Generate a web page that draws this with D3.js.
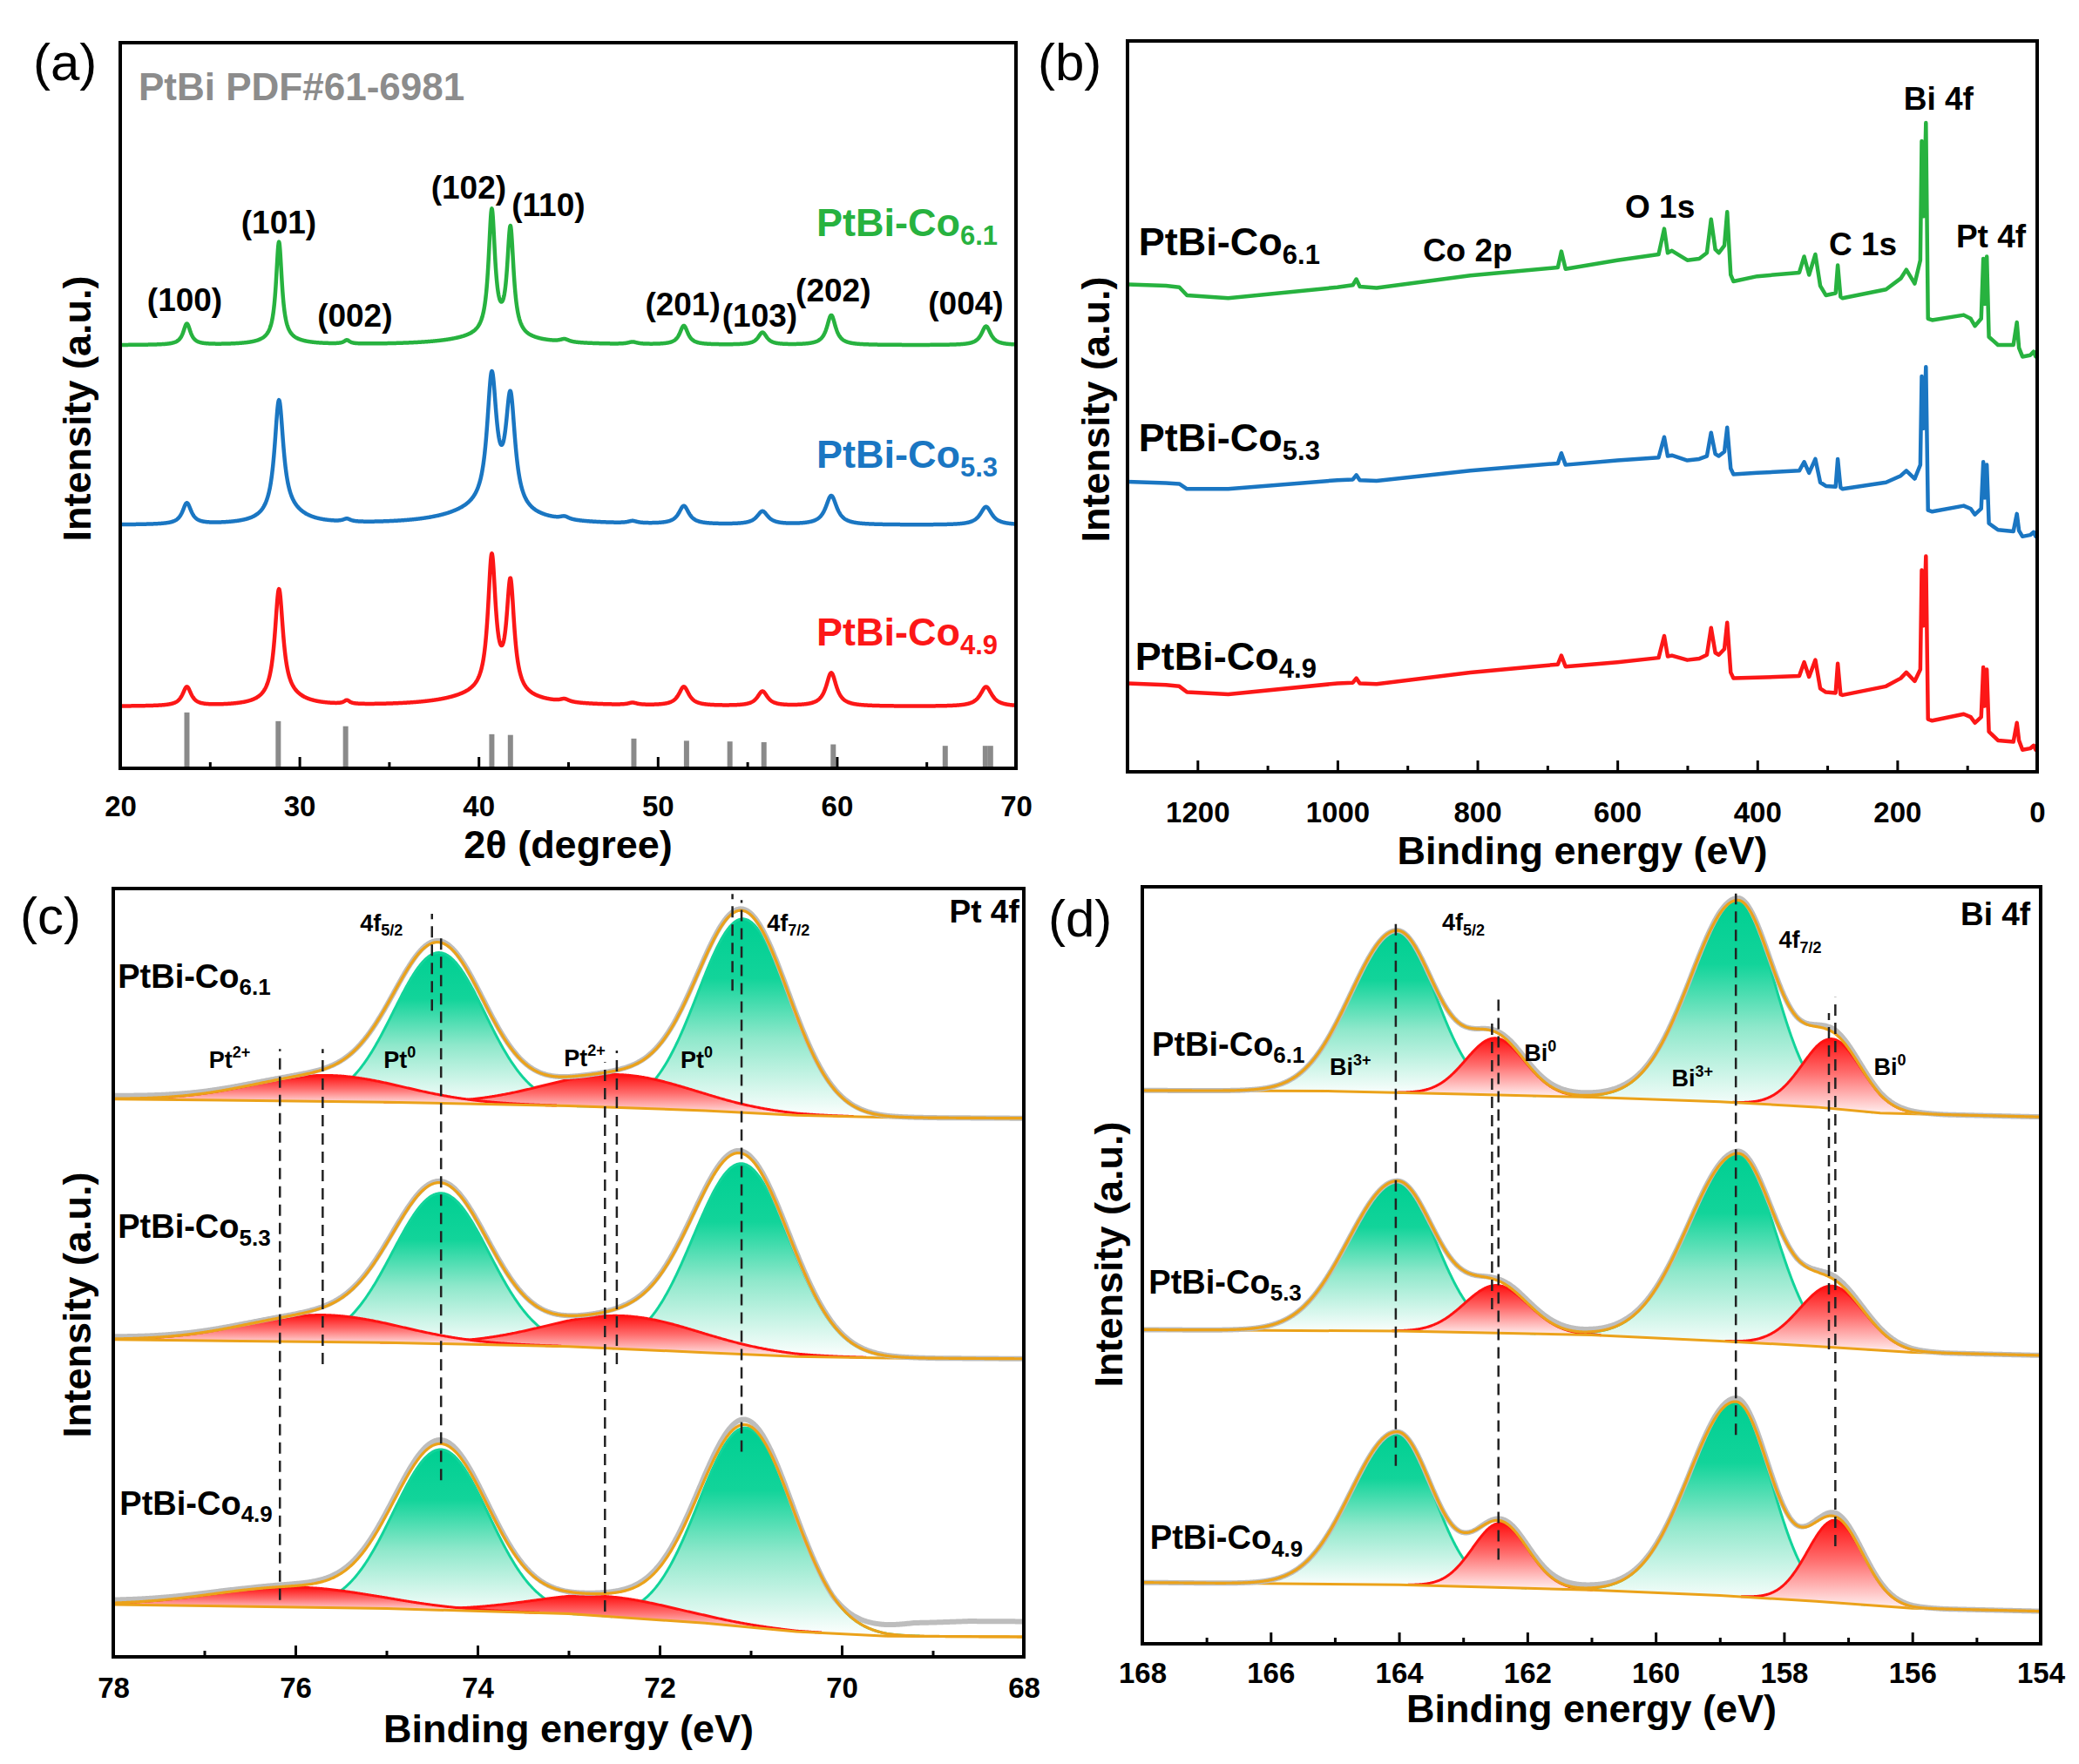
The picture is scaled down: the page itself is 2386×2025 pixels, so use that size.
<!DOCTYPE html>
<html>
<head>
<meta charset="utf-8">
<script src="https://cdn.jsdelivr.net/npm/d3@7"></script>
<style>
  body { margin: 0; background: #fff; }
  text { font-family: "Liberation Sans", Arial, sans-serif; }
</style>
</head>
<body>
<svg id="fig"></svg>
<script>
/* PtBi-Co XRD / XPS figure, four panels */

// ---------- data ----------
const sampleBase = "PtBi-Co";
const sampleSubs = ["6.1", "5.3", "4.9"];

// (a) XRD: baseline level and peaks [2theta, height, half width]
const xrdBaselines = [58.3, 33.5, 8.5];
const xrdPeaks61 = [[23.72,2.9,0.25],[28.86,13.6,0.2],[32.65,0.5,0.2],[40.74,17.0,0.22],[41.78,14.7,0.22],[44.8,0.4,0.3],[48.6,0.3,0.3],[51.46,2.6,0.28],[55.85,1.7,0.3],[59.69,4.1,0.3],[68.33,2.6,0.32],[29.0,0.6,1.2],[40.8,1.2,2.5]];
const xrdPeaks53 = [[23.72,2.9,0.3],[28.86,15.8,0.3],[32.65,0.4,0.25],[40.74,17.7,0.32],[41.78,15.2,0.32],[44.8,0.4,0.3],[48.6,0.3,0.3],[51.46,2.5,0.35],[55.85,1.8,0.38],[59.69,4.0,0.38],[68.33,2.5,0.4],[29.3,1.5,1.2],[40.5,2.2,2.5]];
const xrdPeaks49 = [[23.72,2.6,0.3],[28.86,15.0,0.28],[32.65,0.5,0.2],[40.74,18.4,0.26],[41.78,15.1,0.26],[44.8,0.4,0.3],[48.6,0.3,0.3],[51.46,2.6,0.35],[55.85,2.0,0.35],[59.69,4.6,0.35],[68.33,2.7,0.4],[29.2,1.2,1.2],[40.7,1.8,2.5]];
const refPos = [23.72,28.82,32.58,40.74,41.78,48.67,51.61,54.03,55.93,59.8,66.05,68.29,68.58];
const refInt = [7.7,6.5,5.8,4.7,4.6,4.1,3.8,3.7,3.6,3.3,3.1,3.1,3.1];
const hklLabels = [["(100)",23.6,64.6],["(101)",28.85,75.3],["(002)",33.1,62.4],["(102)",39.45,80.1],["(110)",43.9,77.7],["(201)",51.4,64.0],["(103)",55.7,62.4],["(202)",59.8,65.9],["(004)",67.2,64.1]];
const xrdTicks = [20,30,40,50,60,70];
const xrdMinor = [25,35,45,55,65];

// (b) survey spectra [binding energy, intensity]
const survey61 = [[1300,66.7],[1245,66.5],[1226,66.3],[1215,65.2],[1156,64.8],[1000,66.3],[978,66.6],[973,67.4],[968,66.4],[944,66.2],[810,67.9],[685,69.0],[680,71.2],[674,68.8],[600,70.0],[541,70.8],[533,74.3],[528,71.0],[522,71.3],[500,70.0],[483,70.2],[472,71.0],[466,75.6],[460,71.5],[455,71.0],[447,72.0],[443,76.6],[438,68.0],[434,67.1],[400,67.8],[340,68.3],[333,70.5],[326,68.0],[317,70.8],[310,66.5],[302,65.2],[288,65.5],[285,69.3],[281,65.0],[278,64.8],[216,66.0],[195,67.5],[187,68.7],[175,66.8],[167,70.0],[165,86.3],[162,76.0],[159,88.8],[156,62.0],[150,61.8],[105,62.5],[95,62.0],[89,61.0],[80,62.0],[77,70.2],[75,64.0],[72,70.5],[69,59.5],[56,58.4],[34,58.4],[29,61.5],[26,58.0],[21,56.8],[10,57.0],[5,57.5],[2,56.8],[0,57.3]];
const survey53 = [[1300,39.7],[1245,39.5],[1226,39.4],[1215,38.7],[1156,38.7],[1000,39.9],[978,40.0],[973,40.6],[968,39.9],[944,39.8],[810,41.2],[685,42.2],[680,43.6],[674,42.0],[600,42.6],[541,43.0],[533,45.8],[528,43.2],[522,43.3],[500,42.6],[483,42.8],[472,43.2],[466,46.4],[460,43.5],[455,43.2],[447,43.8],[443,47.1],[438,41.5],[434,40.7],[400,40.9],[340,41.2],[333,42.4],[326,40.9],[317,42.8],[310,39.6],[302,39.1],[288,39.0],[285,42.8],[281,38.9],[278,38.7],[216,39.6],[195,40.5],[187,41.2],[175,40.1],[167,42.0],[165,54.1],[162,47.0],[159,55.4],[156,35.8],[150,35.6],[105,36.4],[95,36.0],[89,35.2],[80,36.0],[77,42.4],[75,37.5],[72,42.0],[69,34.0],[56,33.1],[34,32.9],[29,35.3],[26,33.0],[21,32.2],[10,32.4],[5,32.8],[2,32.2],[0,32.6]];
const survey49 = [[1300,12.1],[1245,11.9],[1226,11.7],[1215,10.9],[1156,10.6],[1000,12.1],[978,12.2],[973,12.8],[968,12.1],[944,12.0],[810,13.6],[685,14.7],[680,15.9],[674,14.4],[600,15.0],[541,15.6],[533,18.6],[528,15.8],[522,15.9],[500,15.3],[483,15.5],[472,16.0],[466,19.7],[460,16.3],[455,16.0],[447,16.8],[443,20.4],[438,13.6],[434,12.8],[400,12.9],[340,13.1],[333,15.0],[326,13.0],[317,15.3],[310,11.4],[302,10.9],[288,10.8],[285,14.8],[281,10.6],[278,10.5],[216,11.7],[195,12.8],[187,13.6],[175,12.4],[167,14.0],[165,27.6],[162,20.0],[159,29.5],[156,7.2],[150,7.0],[105,7.9],[95,7.5],[89,6.7],[80,7.5],[77,14.3],[75,9.0],[72,14.0],[69,5.5],[56,4.3],[34,4.1],[29,6.7],[26,4.3],[21,3.0],[10,3.2],[5,3.6],[2,3.0],[0,3.3]];
const surveyLabels = [["Co 2p",814,69.9],["O 1s",539,75.8],["C 1s",249,70.7],["Bi 4f",141,90.6],["Pt 4f",66,71.8]];
const surveySampleLabelPos = [[1284,70.7],[1284,43.9],[1289,14.0]];
const surveyTicks = [1200,1000,800,600,400,200,0];
const surveyMinor = [1300,1100,900,700,500,300,100];

// (c) Pt 4f fits: background knots, components [centre, height, sigma high-BE side, sigma low-BE side]
const ptBg61 = [[78,72.6],[75,72.2],[73,71.7],[71.5,71.1],[70.5,70.5],[69.5,70.2],[68,70.1]];
const ptBg53 = [[78,41.3],[75,40.9],[73,40.4],[71.5,39.6],[70.5,39.1],[69.5,38.9],[68,38.8]];
const ptBg49 = [[78,6.8],[75,6.3],[73,5.6],[71.5,4.4],[70.5,3.3],[69.5,2.7],[68,2.6]];
const pt0Comp61 = [[71.08,25.2,0.5,0.5],[74.42,19.6,0.5,0.5]];
const pt2Comp61 = [[72.45,4.3,0.82,0.82],[75.65,3.4,0.82,0.82]];
const pt0Comp53 = [[71.1,24.8,0.53,0.53],[74.4,19.6,0.53,0.53]];
const pt2Comp53 = [[72.4,4.3,0.85,0.85],[75.7,3.5,0.85,0.85]];
const pt0Comp49 = [[71.05,25.9,0.52,0.52],[74.4,20.9,0.52,0.52]];
const pt2Comp49 = [[72.6,2.6,0.8,0.8],[76.0,2.6,0.9,0.9]];
const ptRaw61 = [[78,0.4],[76.5,0.2],[75,0],[74.4,0.2],[73,0],[71.1,0.2],[69,0],[68,0]];
const ptRaw53 = [[78,0.3],[76,0.1],[74.4,0.2],[73,0],[71.1,0.3],[69,0],[68,0]];
const ptRaw49 = [[78,0.4],[76.5,0.2],[74.4,0.5],[73,0],[71.1,0.7],[70.1,0],[69.6,1.0],[69.2,1.7],[68.6,2.0],[68,2.0]];
const ptDashes = [[74.5,84.1,96.7],[74.4,23.0,94.4],[71.2,86.7,99.3],[71.1,26.7,98.5],[76.17,7.4,79.1],[75.7,38.1,79.1],[72.6,5.9,77.4],[72.47,38.1,78.9]];
const ptLabels = [["4f","5/2","sub",75.29,94.5],["4f","7/2","sub",70.82,94.5],["Pt","2+","sup",76.95,76.7],["Pt","0","sup",75.03,76.7],["Pt","2+","sup",73.05,76.9],["Pt","0","sup",71.77,76.7]];
const ptSampleLabelPos = [[77.95,87.1],[77.95,54.5],[77.93,18.5]];
const ptTicks = [78,76,74,72,70,68];
const ptMinor = [77,75,73,71,69];

// (d) Bi 4f fits
const biBg61 = [[168,73.1],[165,73.0],[163,72.6],[161,72.2],[159,71.6],[157.5,70.9],[156.5,70.1],[155,69.8],[154,69.6]];
const biBg53 = [[168,41.5],[164,41.3],[161,40.8],[159,40.0],[157.5,39.3],[156,38.5],[154,38.1]];
const biBg49 = [[168,8.1],[164,7.8],[161,7.1],[159,6.4],[157.5,5.6],[156,4.7],[154,4.3]];
const bi3Comp61 = [[164.03,21.4,0.72,0.6],[158.72,26.7,0.74,0.57]];
const bi0Comp61 = [[162.5,7.5,0.46,0.46],[157.25,9.2,0.46,0.46]];
const bi3Comp53 = [[164.03,19.8,0.76,0.6],[158.72,24.8,0.78,0.58]];
const bi0Comp53 = [[162.48,6.3,0.5,0.5],[157.25,8.1,0.5,0.5]];
const bi3Comp49 = [[164.03,20.2,0.72,0.56],[158.75,25.7,0.74,0.55]];
const bi0Comp49 = [[162.42,8.5,0.43,0.43],[157.2,10.9,0.43,0.43]];
const biRaw61 = [[168,0],[162.8,0],[162.2,0.4],[161.5,0.4],[160.5,0.3],[159.5,0],[158.7,0.3],[157.8,0],[157.2,0.5],[156.5,0.3],[155.5,0],[154,0]];
const biRaw53 = [[168,0],[162.8,0],[162.2,0.4],[161.5,0.4],[160.5,0.3],[159.5,0],[158.7,0.3],[157.8,0],[157.2,0.5],[156.5,0.3],[155.5,0],[154,0]];
const biRaw49 = [[168,0],[162.8,0],[162.2,0.4],[161.5,0.5],[160.5,0.3],[159.5,0],[158.7,0.5],[157.8,0],[157.2,0.5],[156.5,0.3],[155.5,0],[154,0]];
const biDashes = [[164.05,23.5,95.3],[162.55,44.2,82.7],[162.45,11.1,85.2],[158.75,27.6,99.1],[157.3,38.9,83.3],[157.2,12.9,85.4]];
const biLabels = [["4f","5/2","sub",163.33,94.2],["4f","7/2","sub",158.08,91.9],["Bi","3+","sup",165.08,75.1],["Bi","0","sup",162.05,77.0],["Bi","3+","sup",159.75,73.6],["Bi","0","sup",156.6,75.1]];
const biSampleLabelPos = [[167.85,77.7],[167.9,46.3],[167.88,12.5]];
const biTicks = [168,166,164,162,160,158,156,154];
const biMinor = [167,165,163,161,159,157,155];

// ---------- layout ----------
const W = 2386, H = 2025;
const FONT = '"Liberation Sans", Arial, sans-serif';
const xrdColors = ["#27b23f", "#1a76c2", "#fc1717"];
const fitGreen = "#12d49a", fitRed = "#ff1212", envColor = "#eba21a", rawColor = "#bdbdbd";

const svg = d3.select("#fig").attr("width", W).attr("height", H)
  .style("background", "#fff");

const defs = svg.append("defs");
function makeGrad(id, stops) {
  const g = defs.append("linearGradient").attr("id", id)
    .attr("x1", 0).attr("y1", 0).attr("x2", 0).attr("y2", 1);
  stops.forEach(s => g.append("stop").attr("offset", s[0]).attr("stop-color", s[1]));
}
makeGrad("gradGreen", [[0, "#00cf92"], [0.3, "#12d49a"], [0.6, "#8fe8cb"], [1, "#ffffff"]]);
makeGrad("gradRed", [[0, "#ff1010"], [0.45, "#ff6d6d"], [1, "#fff2f2"]]);

const panels = {
  a: { x0: 138, x1: 1166, y0: 49, y1: 882 },
  b: { x0: 1294, x1: 2338, y0: 47, y1: 886 },
  c: { x0: 130, x1: 1175, y0: 1020, y1: 1902 },
  d: { x0: 1311, x1: 2342, y0: 1018, y1: 1887 }
};

function yScale(p) { return d3.scaleLinear().domain([0, 100]).range([p.y1, p.y0]); }

function clipFor(id, p) {
  defs.append("clipPath").attr("id", id).append("rect")
    .attr("x", p.x0).attr("y", p.y0).attr("width", p.x1 - p.x0).attr("height", p.y1 - p.y0);
  return svg.append("g").attr("clip-path", `url(#${id})`);
}

function drawFrame(p) {
  svg.append("rect").attr("x", p.x0).attr("y", p.y0)
    .attr("width", p.x1 - p.x0).attr("height", p.y1 - p.y0)
    .attr("fill", "none").attr("stroke", "#000").attr("stroke-width", 4);
}

function drawXAxis(p, x, majors, minors, pad) {
  const major = d3.axisBottom(x).tickValues(majors).tickSizeInner(-13).tickSizeOuter(0)
    .tickPadding(pad).tickFormat(d3.format("d"));
  const g = svg.append("g").attr("transform", `translate(0,${p.y1})`).call(major);
  g.select(".domain").remove();
  g.selectAll("line").attr("stroke", "#000").attr("stroke-width", 3);
  g.selectAll("text").attr("font-size", 33).attr("font-weight", "bold")
    .attr("fill", "#000").attr("font-family", FONT);
  const minor = d3.axisBottom(x).tickValues(minors).tickSizeInner(-7).tickSizeOuter(0).tickFormat("");
  const gm = svg.append("g").attr("transform", `translate(0,${p.y1})`).call(minor);
  gm.select(".domain").remove();
  gm.selectAll("line").attr("stroke", "#000").attr("stroke-width", 3);
}

function titleText(x, y, str, rotate) {
  const t = svg.append("text").attr("font-size", 45).attr("font-weight", "bold")
    .attr("text-anchor", "middle").attr("font-family", FONT).text(str);
  if (rotate) t.attr("transform", `translate(${x},${y}) rotate(-90)`).attr("dy", "0.35em");
  else t.attr("x", x).attr("y", y);
}

function panelLetter(x, y, str) {
  svg.append("text").attr("x", x).attr("y", y).attr("font-size", 60)
    .attr("font-family", FONT).text(str);
}

// text with sub- or superscript
function scriptText(g, x, y, base, script, kind, size, color, anchor) {
  const t = g.append("text").attr("x", x).attr("y", y).attr("font-size", size)
    .attr("font-weight", "bold").attr("fill", color || "#000").attr("font-family", FONT)
    .attr("text-anchor", anchor || "start");
  t.append("tspan").text(base);
  const small = Math.round(size * 0.68);
  const shift = kind === "sub" ? size * 0.22 : -size * 0.42;
  t.append("tspan").attr("font-size", small).attr("dy", shift).text(script);
  return t;
}

// ---------- panel (a) XRD ----------
(function () {
  const p = panels.a;
  const x = d3.scaleLinear().domain([20, 70]).range([p.x0, p.x1]);
  const y = yScale(p);
  const g = clipFor("clipA", p);

  // reference sticks
  g.selectAll(".ref").data(refPos).enter().append("line")
    .attr("x1", d => x(d)).attr("x2", d => x(d))
    .attr("y1", y(0)).attr("y2", (d, i) => y(refInt[i]))
    .attr("stroke", "#8a8a8a").attr("stroke-width", 6);

  const grid = d3.range(20, 70.001, 0.02);
  const peakSets = [xrdPeaks61, xrdPeaks53, xrdPeaks49];
  const line = d3.line().x(d => x(d[0])).y(d => y(d[1]));
  peakSets.forEach((peaks, i) => {
    const pts = grid.map(t => {
      let v = xrdBaselines[i];
      peaks.forEach(([c, h, w]) => { v += h / (1 + ((t - c) / w) ** 2); });
      return [t, v];
    });
    g.append("path").attr("d", line(pts)).attr("fill", "none")
      .attr("stroke", xrdColors[i]).attr("stroke-width", 4.5).attr("stroke-linejoin", "round");
  });

  hklLabels.forEach(([s, t, v]) => {
    svg.append("text").attr("x", x(t)).attr("y", y(v)).attr("dy", "0.35em")
      .attr("text-anchor", "middle").attr("font-size", 37).attr("font-weight", "bold")
      .attr("font-family", FONT).text(s);
  });

  const labelY = [271, 537, 741];
  sampleSubs.forEach((s, i) => {
    scriptText(svg, p.x0 + 799, labelY[i], sampleBase, s, "sub", 45, xrdColors[i]);
  });

  svg.append("text").attr("x", p.x0 + 21).attr("y", p.y0 + 66).attr("font-size", 44)
    .attr("font-weight", "bold").attr("fill", "#8c8c8c").attr("font-family", FONT)
    .text("PtBi PDF#61-6981");

  drawXAxis(p, x, xrdTicks, xrdMinor, 32);
  drawFrame(p);
  titleText((p.x0 + p.x1) / 2, 985, "2θ (degree)");
  titleText(88, 469, "Intensity (a.u.)", true);
  panelLetter(38, 92, "(a)");
})();

// ---------- panel (b) survey ----------
(function () {
  const p = panels.b;
  const x = d3.scaleLinear().domain([1300, 0]).range([p.x0, p.x1]);
  const y = yScale(p);
  const g = clipFor("clipB", p);
  const line = d3.line().x(d => x(d[0])).y(d => y(d[1]));
  [survey61, survey53, survey49].forEach((s, i) => {
    g.append("path").attr("d", line(s)).attr("fill", "none")
      .attr("stroke", xrdColors[i]).attr("stroke-width", 4.5).attr("stroke-linejoin", "round");
  });

  surveyLabels.forEach(([s, e, v]) => {
    svg.append("text").attr("x", x(e)).attr("y", y(v)).attr("text-anchor", "middle")
      .attr("font-size", 37).attr("font-weight", "bold").attr("font-family", FONT).text(s);
  });
  sampleSubs.forEach((s, i) => {
    const [e, v] = surveySampleLabelPos[i];
    scriptText(svg, x(e), y(v), sampleBase, s, "sub", 45, "#000");
  });

  drawXAxis(p, x, surveyTicks, surveyMinor, 35);
  drawFrame(p);
  titleText((p.x0 + p.x1) / 2, 992, "Binding energy (eV)");
  titleText(1257, 470, "Intensity (a.u.)", true);
  panelLetter(1191, 92, "(b)");
})();

// ---------- fitted XPS panels (c) and (d) ----------
function gauss(e, comp) {
  const [c, h, sHi, sLo] = comp;
  const s = e > c ? sHi : sLo;
  return h * Math.exp(-0.5 * ((e - c) / s) ** 2);
}

function drawFitPanel(p, clipId, dom, samples, dashes, labels, sampleLabelPos, cornerLabel) {
  const x = d3.scaleLinear().domain(dom).range([p.x0, p.x1]);
  const y = yScale(p);
  const g = clipFor(clipId, p);
  const grid = d3.range(dom[1], dom[0] + 0.0001, 0.01);
  const line = d3.line().x(d => x(d[0])).y(d => y(d[1])).curve(d3.curveLinear);

  samples.forEach(smp => {
    const bgS = d3.scaleLinear().domain(smp.bg.map(d => d[0])).range(smp.bg.map(d => d[1]));
    const rawS = d3.scaleLinear().domain(smp.raw.map(d => d[0])).range(smp.raw.map(d => d[1])).clamp(true);
    const comps = [
      ...smp.green.map(c => ({ c, fill: "url(#gradGreen)", stroke: fitGreen })),
      ...smp.red.map(c => ({ c, fill: "url(#gradRed)", stroke: fitRed }))
    ];
    comps.forEach(({ c, fill, stroke }) => {
      const pts = grid.map(e => ({ e, b: bgS(e), v: gauss(e, c) })).filter(d => d.v > 0.03);
      g.append("path").datum(pts)
        .attr("d", d3.area().x(d => x(d.e)).y0(d => y(d.b)).y1(d => y(d.b + d.v)))
        .attr("fill", fill);
      g.append("path").datum(pts)
        .attr("d", d3.line().x(d => x(d.e)).y(d => y(d.b + d.v)))
        .attr("fill", "none").attr("stroke", stroke).attr("stroke-width", 3);
    });
    const all = [...smp.green, ...smp.red];
    const env = grid.map(e => [e, bgS(e) + d3.sum(all, c => gauss(e, c))]);
    const raw = env.map(([e, v]) => [e, v + rawS(e)]);
    g.append("path").attr("d", line(smp.bg.map(d => [d[0], d[1]])))
      .attr("fill", "none").attr("stroke", envColor).attr("stroke-width", 3);
    g.append("path").attr("d", line(raw)).attr("fill", "none")
      .attr("stroke", rawColor).attr("stroke-width", 6).attr("stroke-linejoin", "round");
    g.append("path").attr("d", line(env)).attr("fill", "none")
      .attr("stroke", envColor).attr("stroke-width", 3.2).attr("stroke-linejoin", "round");
  });

  dashes.forEach(([e, v0, v1]) => {
    g.append("line").attr("x1", x(e)).attr("x2", x(e)).attr("y1", y(v0)).attr("y2", y(v1))
      .attr("stroke", "#222").attr("stroke-width", 2.5).attr("stroke-dasharray", "13,8");
  });

  labels.forEach(([b, s, k, e, v]) => scriptText(svg, x(e), y(v), b, s, k, 27, "#000"));
  sampleSubs.forEach((s, i) => {
    const [e, v] = sampleLabelPos[i];
    scriptText(svg, x(e), y(v), sampleBase, s, "sub", 38, "#000");
  });
  svg.append("text").attr("x", x(cornerLabel[1])).attr("y", y(cornerLabel[2]))
    .attr("text-anchor", "end").attr("font-size", 37).attr("font-weight", "bold")
    .attr("font-family", FONT).text(cornerLabel[0]);
  return x;
}

(function () {
  const p = panels.c;
  const x = drawFitPanel(p, "clipC", [78, 68], [
    { bg: ptBg61, green: pt0Comp61, red: pt2Comp61, raw: ptRaw61 },
    { bg: ptBg53, green: pt0Comp53, red: pt2Comp53, raw: ptRaw53 },
    { bg: ptBg49, green: pt0Comp49, red: pt2Comp49, raw: ptRaw49 }
  ], ptDashes, ptLabels, ptSampleLabelPos, ["Pt 4f", 68.05, 95.6]);
  drawXAxis(p, x, ptTicks, ptMinor, 24);
  drawFrame(p);
  titleText((p.x0 + p.x1) / 2, 2000, "Binding energy (eV)");
  titleText(88, 1498, "Intensity (a.u.)", true);
  panelLetter(23, 1072, "(c)");
})();

(function () {
  const p = panels.d;
  const x = drawFitPanel(p, "clipD", [168, 154], [
    { bg: biBg61, green: bi3Comp61, red: bi0Comp61, raw: biRaw61 },
    { bg: biBg53, green: bi3Comp53, red: bi0Comp53, raw: biRaw53 },
    { bg: biBg49, green: bi3Comp49, red: bi0Comp49, raw: biRaw49 }
  ], biDashes, biLabels, biSampleLabelPos, ["Bi 4f", 154.16, 94.9]);
  drawXAxis(p, x, biTicks, biMinor, 22);
  drawFrame(p);
  titleText((p.x0 + p.x1) / 2, 1977, "Binding energy (eV)");
  titleText(1272, 1440, "Intensity (a.u.)", true);
  panelLetter(1203, 1075, "(d)");
})();
</script>
</body>
</html>
